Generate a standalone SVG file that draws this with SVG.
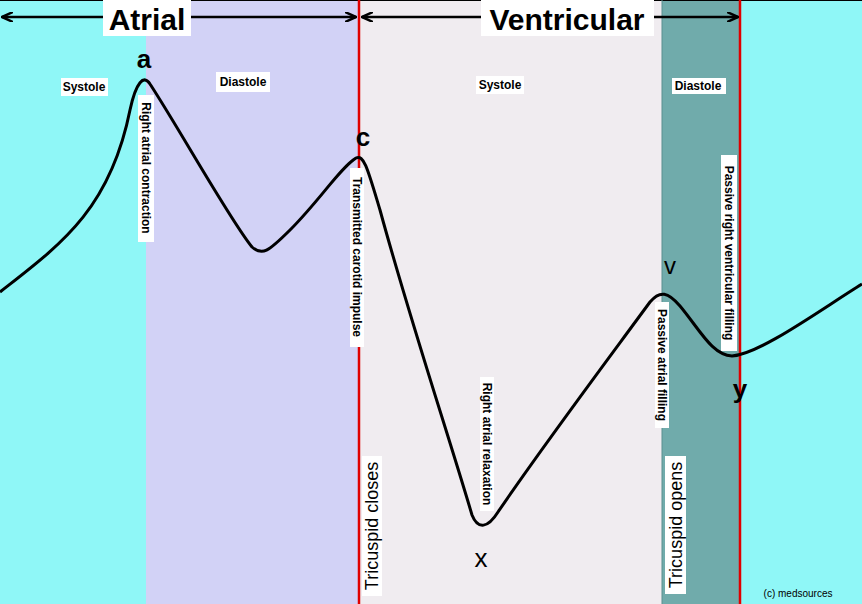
<svg xmlns="http://www.w3.org/2000/svg" width="862" height="604" viewBox="0 0 862 604">
<defs>
<marker id="ah" markerWidth="12" markerHeight="10" refX="11" refY="5" orient="auto-start-reverse" markerUnits="userSpaceOnUse"><path d="M0,0 L11,5 L0,10" fill="none" stroke="#000" stroke-width="2.5"/></marker>
</defs>
<style>
.lb{font-family:"Liberation Sans",Arial,sans-serif;font-weight:bold;font-size:12px;fill:#000}
.big{font-family:"Liberation Sans",Arial,sans-serif;font-weight:bold;font-size:30px;fill:#000}
.pt{font-family:"Liberation Sans",Arial,sans-serif;font-weight:bold;font-size:26px;fill:#000}
.tc{font-family:"Liberation Sans",Arial,sans-serif;font-size:18px;fill:#000}
.bg{fill:#fff}
.red{stroke:#e00000;stroke-width:2.5}
</style>
<rect x="0" y="0" width="146" height="604" fill="#8ff7f7"/>
<rect x="146" y="0" width="213" height="604" fill="#d2d2f6"/>
<rect x="359" y="0" width="303" height="604" fill="#f0ecf0"/>
<rect x="662" y="0" width="78" height="604" fill="#70abab"/>
<rect x="740" y="0" width="122" height="604" fill="#8ff7f7"/>
<line x1="0" y1="0.5" x2="862" y2="0.5" stroke="#000"/>
<line x1="662" y1="0" x2="662" y2="604" stroke="#5a9090"/>
<g id="connectors" fill="none">
<line class="red" x1="359" y1="0" x2="359" y2="604"/>
<line class="red" x1="740" y1="0" x2="740" y2="604"/>
<line x1="2" y1="17" x2="356" y2="17" stroke="#000" stroke-width="2.5" marker-start="url(#ah)" marker-end="url(#ah)"/>
<line x1="362" y1="17" x2="738" y2="17" stroke="#000" stroke-width="2.5" marker-start="url(#ah)" marker-end="url(#ah)"/>
<path d="M0,292 C60,245 110,210 130,110 C136,82 144,74 150,84 C180,130 230,220 252,247 C262,256 268,252 290,230 C320,200 340,168 356,158 C364,154 368,170 380,210 C410,320 450,440 472,515 C478,530 488,528 498,512 C540,450 600,370 650,302 C660,290 668,292 680,306 C700,330 712,355 732,356 C760,354 820,310 862,284" stroke="#000" stroke-width="3"/>
</g>
<g id="title-atrial"><rect class="bg" x="103" y="0" width="88" height="36"/><text class="big" x="147" y="30" text-anchor="middle">Atrial</text></g>
<g id="title-ventricular"><rect class="bg" x="481" y="0" width="173" height="36"/><text class="big" x="567" y="30" text-anchor="middle">Ventricular</text></g>
<g id="phase1"><rect class="bg" x="61" y="78" width="47" height="18"/><text class="lb" x="84" y="91" text-anchor="middle">Systole</text></g>
<g id="phase2"><rect class="bg" x="216" y="72" width="54" height="20"/><text class="lb" x="243" y="86" text-anchor="middle">Diastole</text></g>
<g id="phase3"><rect class="bg" x="476" y="76" width="48" height="18"/><text class="lb" x="500" y="89" text-anchor="middle">Systole</text></g>
<g id="phase4"><rect class="bg" x="672" y="78" width="54" height="16"/><text class="lb" x="698" y="90" text-anchor="middle">Diastole</text></g>
<g id="pt-a"><text class="pt" x="144" y="68" text-anchor="middle">a</text></g>
<g id="pt-c"><text class="pt" x="363" y="146" text-anchor="middle">c</text></g>
<g id="pt-v"><text class="tc" x="670" y="274" text-anchor="middle" style="font-size:24px">v</text></g>
<g id="pt-x"><text class="tc" x="481" y="567" text-anchor="middle" style="font-size:26px">x</text></g>
<g id="pt-y"><text class="pt" x="740" y="398" text-anchor="middle">y</text></g>
<g id="lbl-rac"><rect class="bg" x="138" y="95" width="16" height="147"/><text class="lb" transform="translate(142,168) rotate(90)" text-anchor="middle">Right atrial contraction</text></g>
<g id="lbl-tci"><rect class="bg" x="350" y="168" width="14" height="179"/><text class="lb" transform="translate(353,257) rotate(90)" text-anchor="middle">Transmitted carotid impulse</text></g>
<g id="lbl-rar"><rect class="bg" x="480" y="377" width="14" height="134"/><text class="lb" transform="translate(483,444) rotate(90)" text-anchor="middle">Right atrial relaxation</text></g>
<g id="lbl-paf"><rect class="bg" x="655" y="302" width="14" height="126"/><text class="lb" transform="translate(658,365) rotate(90)" text-anchor="middle">Passive atrial filling</text></g>
<g id="lbl-prvf"><rect class="bg" x="721" y="155" width="16" height="196"/><text class="lb" transform="translate(725,253) rotate(90)" text-anchor="middle">Passive right ventricular filling</text></g>
<g id="lbl-tcl"><rect class="bg" x="362" y="456" width="20" height="140"/><text class="tc" transform="translate(378,526) rotate(-90)" text-anchor="middle">Tricuspid closes</text></g>
<g id="lbl-top"><rect class="bg" x="665" y="456" width="21" height="138"/><text class="tc" transform="translate(682,525) rotate(-90)" text-anchor="middle">Tricuspid opens</text></g>
<text x="798" y="597" font-family="Liberation Sans,Arial,sans-serif" font-size="10" text-anchor="middle">(c) medsources</text>
</svg>
